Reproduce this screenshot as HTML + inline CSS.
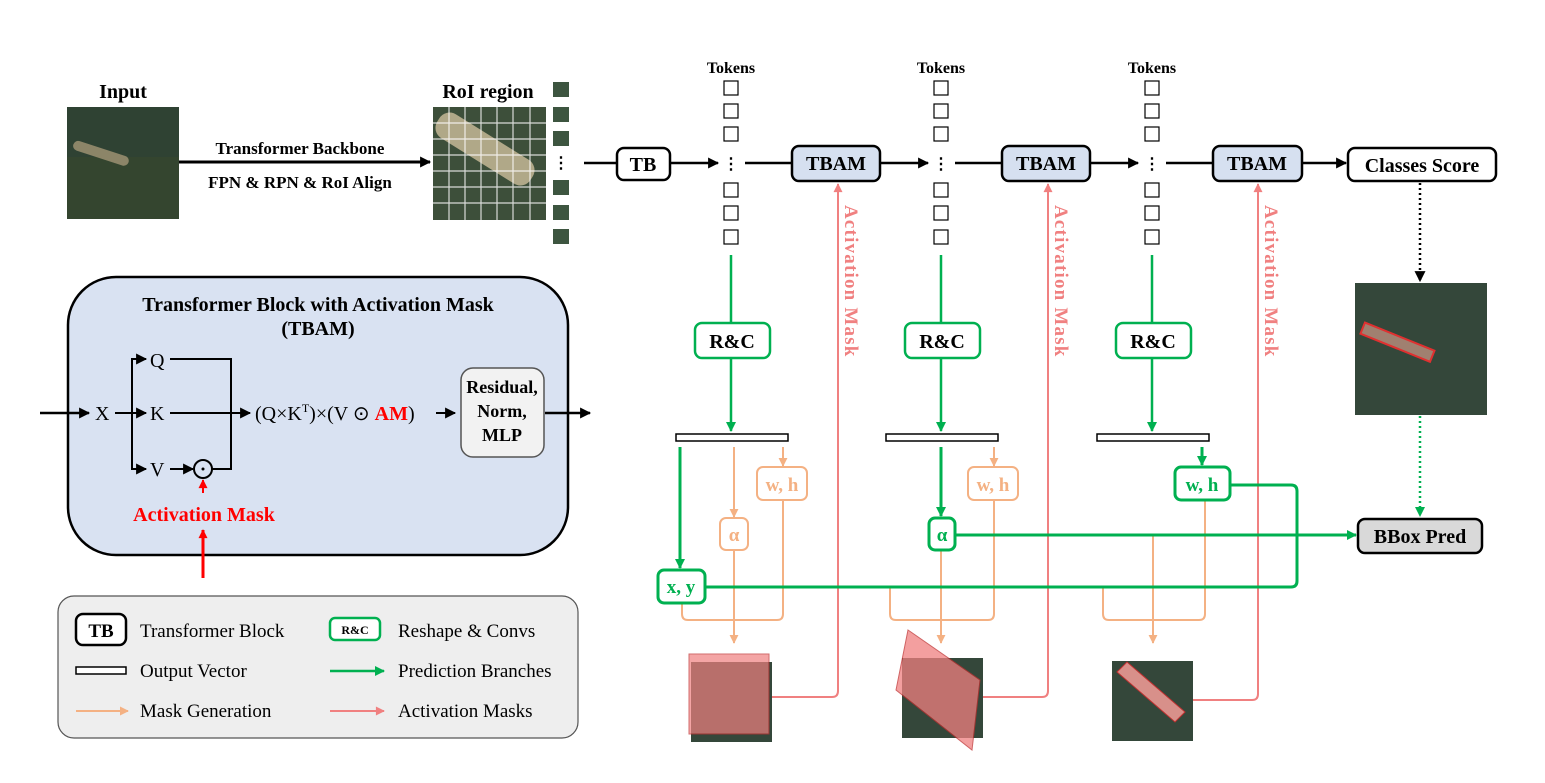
<!DOCTYPE html>
<html><head><meta charset="utf-8"><style>body{margin:0;background:#fff}svg{display:block}text{font-family:"Liberation Serif",serif}</style></head><body>
<svg width="1545" height="783" viewBox="0 0 1545 783" xmlns="http://www.w3.org/2000/svg">
<defs>
<marker id="ak" viewBox="0 0 10 10" refX="9" refY="5" markerUnits="userSpaceOnUse" markerWidth="13" markerHeight="11" orient="auto"><path d="M0,0L10,5L0,10z" fill="#000"/></marker>
<marker id="ag" viewBox="0 0 10 10" refX="9" refY="5" markerUnits="userSpaceOnUse" markerWidth="11" markerHeight="10" orient="auto"><path d="M0,0L10,5L0,10z" fill="#00b050"/></marker>
<marker id="ao" viewBox="0 0 10 10" refX="9" refY="5" markerUnits="userSpaceOnUse" markerWidth="9" markerHeight="9" orient="auto"><path d="M0,0L10,5L0,10z" fill="#f4b183"/></marker>
<marker id="ap" viewBox="0 0 10 10" refX="9" refY="5" markerUnits="userSpaceOnUse" markerWidth="10" markerHeight="9" orient="auto"><path d="M0,0L10,5L0,10z" fill="#f08080"/></marker>
<marker id="ar" viewBox="0 0 10 10" refX="9" refY="5" markerUnits="userSpaceOnUse" markerWidth="11" markerHeight="9" orient="auto"><path d="M0,0L10,5L0,10z" fill="#f00"/></marker>
</defs>
<!-- top row -->
<text x="123" y="98" font-size="20" font-weight="bold" text-anchor="middle">Input</text>
<rect x="67" y="107" width="112" height="112" fill="#34452f"/>
<rect x="67" y="107" width="112" height="50" fill="#2f4233"/>
<rect x="72" y="148" width="58" height="10" rx="5" fill="#8c8568" transform="rotate(18 100 153)"/>
<line x1="179" y1="162" x2="430" y2="162" stroke="#000" stroke-width="3" marker-end="url(#ak)"/>
<text x="300" y="154" font-size="17" font-weight="bold" text-anchor="middle">Transformer Backbone</text>
<text x="300" y="188" font-size="17" font-weight="bold" text-anchor="middle">FPN &amp; RPN &amp; RoI Align</text>
<text x="488" y="98" font-size="20" font-weight="bold" text-anchor="middle">RoI region</text>
<rect x="433" y="107" width="113" height="113" fill="#3d4f3a"/>
<rect x="430" y="135" width="110" height="28" rx="12" fill="#b0a888" transform="rotate(32 485 149)"/>
<g stroke="#fff" stroke-width="1.2" opacity=".8">
<line x1="449" y1="107" x2="449" y2="220"/><line x1="465" y1="107" x2="465" y2="220"/><line x1="481" y1="107" x2="481" y2="220"/><line x1="497" y1="107" x2="497" y2="220"/><line x1="513" y1="107" x2="513" y2="220"/><line x1="530" y1="107" x2="530" y2="220"/>
<line x1="433" y1="123" x2="546" y2="123"/><line x1="433" y1="139" x2="546" y2="139"/><line x1="433" y1="155" x2="546" y2="155"/><line x1="433" y1="171" x2="546" y2="171"/><line x1="433" y1="187" x2="546" y2="187"/><line x1="433" y1="203" x2="546" y2="203"/>
</g>
<g fill="#3d5540"><rect x="553" y="82" width="16" height="15"/><rect x="553" y="107" width="16" height="15"/><rect x="553" y="131" width="16" height="15"/><rect x="553" y="180" width="16" height="15"/><rect x="553" y="205" width="16" height="15"/><rect x="553" y="229" width="16" height="15"/></g>
<text x="561" y="168" font-size="16" font-weight="bold" text-anchor="middle">⋮</text>
<line x1="584" y1="163" x2="617" y2="163" stroke="#000" stroke-width="2.5"/>
<rect x="617" y="148" width="53" height="32" rx="7" fill="#fff" stroke="#000" stroke-width="2.5"/>
<text x="643" y="171" font-size="20" font-weight="bold" text-anchor="middle">TB</text>
<line x1="670" y1="163" x2="718" y2="163" stroke="#000" stroke-width="2.5" marker-end="url(#ak)"/>
<!-- token columns -->
<g id="tok">
<text x="731" y="73" font-size="16" font-weight="bold" text-anchor="middle">Tokens</text>
<g fill="#fff" stroke="#000" stroke-width="1.2"><rect x="724" y="81" width="14" height="14"/><rect x="724" y="104" width="14" height="14"/><rect x="724" y="127" width="14" height="14"/><rect x="724" y="183" width="14" height="14"/><rect x="724" y="206" width="14" height="14"/><rect x="724" y="230" width="14" height="14"/></g>
<text x="731" y="169" font-size="16" font-weight="bold" text-anchor="middle">⋮</text>
<line x1="731" y1="255" x2="731" y2="323" stroke="#00b050" stroke-width="2.5"/>
<rect x="695" y="323" width="75" height="35" rx="7" fill="#fff" stroke="#00b050" stroke-width="2.5"/>
<text x="732" y="348" font-size="20" font-weight="bold" text-anchor="middle">R&amp;C</text>
<line x1="731" y1="358" x2="731" y2="431" stroke="#00b050" stroke-width="2.5" marker-end="url(#ag)"/>
<rect x="676" y="434" width="112" height="7" fill="#fff" stroke="#000" stroke-width="1.5"/>
</g>
<use href="#tok" x="210"/><use href="#tok" x="421"/>
<line x1="745" y1="163" x2="792" y2="163" stroke="#000" stroke-width="2.5"/>
<line x1="955" y1="163" x2="1002" y2="163" stroke="#000" stroke-width="2.5"/>
<line x1="1166" y1="163" x2="1213" y2="163" stroke="#000" stroke-width="2.5"/>
<g fill="#d6e0f0" stroke="#000" stroke-width="2.5">
<rect x="792" y="146" width="88" height="35" rx="7"/><rect x="1002" y="146" width="88" height="35" rx="7"/><rect x="1213" y="146" width="89" height="35" rx="7"/></g>
<g font-size="20" font-weight="bold" text-anchor="middle"><text x="836" y="170">TBAM</text><text x="1046" y="170">TBAM</text><text x="1257" y="170">TBAM</text></g>
<line x1="880" y1="163" x2="928" y2="163" stroke="#000" stroke-width="2.5" marker-end="url(#ak)"/>
<line x1="1090" y1="163" x2="1138" y2="163" stroke="#000" stroke-width="2.5" marker-end="url(#ak)"/>
<line x1="1302" y1="163" x2="1346" y2="163" stroke="#000" stroke-width="2.5" marker-end="url(#ak)"/>
<rect x="1348" y="148" width="148" height="33" rx="7" fill="#fff" stroke="#000" stroke-width="2.5"/>
<text x="1422" y="172" font-size="20" font-weight="bold" text-anchor="middle">Classes Score</text>
<line x1="1420" y1="183" x2="1420" y2="281" stroke="#000" stroke-width="2.5" stroke-dasharray="2,3" marker-end="url(#ak)"/>
<rect x="1355" y="283" width="132" height="132" fill="#34473a"/>
<rect x="1360" y="336" width="75" height="12" fill="#a08070" stroke="#e03030" stroke-width="2" transform="rotate(22 1397 342)"/>
<line x1="1420" y1="416" x2="1420" y2="516" stroke="#00b050" stroke-width="2.5" stroke-dasharray="2,3" marker-end="url(#ag)"/>
<rect x="1358" y="519" width="124" height="34" rx="7" fill="#d9d9d9" stroke="#000" stroke-width="2.5"/>
<text x="1420" y="543" font-size="20" font-weight="bold" text-anchor="middle">BBox Pred</text>
<!-- activation mask lines -->
<g stroke="#f08080" stroke-width="2" fill="none">
<path d="M772,697H832Q838,697 838,691V184" marker-end="url(#ap)"/>
<path d="M983,697H1042Q1048,697 1048,691V184" marker-end="url(#ap)"/>
<path d="M1193,700H1252Q1258,700 1258,694V184" marker-end="url(#ap)"/>
</g>
<g fill="#f08080" font-size="19" font-weight="bold" letter-spacing="1.2"><text transform="translate(845,205) rotate(90)">Activation Mask</text><text transform="translate(1055,205) rotate(90)">Activation Mask</text><text transform="translate(1265,205) rotate(90)">Activation Mask</text></g>
<!-- orange -->
<g stroke="#f4b183" stroke-width="2" fill="none">
<line x1="734" y1="447" x2="734" y2="517" marker-end="url(#ao)"/>
<line x1="734" y1="550" x2="734" y2="643" marker-end="url(#ao)"/>
<line x1="783" y1="447" x2="783" y2="466" marker-end="url(#ao)"/>
<path d="M682,603V614Q682,620 688,620H777Q783,620 783,614V500"/>
<line x1="994" y1="447" x2="994" y2="466" marker-end="url(#ao)"/>
<line x1="941" y1="550" x2="941" y2="643" marker-end="url(#ao)"/>
<path d="M890,587V614Q890,620 896,620H988Q994,620 994,614V500"/>
<line x1="1153" y1="535" x2="1153" y2="643" marker-end="url(#ao)"/>
<path d="M1103,587V614Q1103,620 1109,620H1199Q1205,620 1205,614V500"/>
</g>
<g fill="#fff" stroke="#f4b183" stroke-width="2"><rect x="757" y="467" width="50" height="33" rx="6"/><rect x="720" y="518" width="28" height="32" rx="6"/><rect x="968" y="467" width="50" height="33" rx="6"/></g>
<g fill="#f4b183" font-size="19" font-weight="bold" text-anchor="middle"><text x="782" y="491">w, h</text><text x="734" y="541">α</text><text x="993" y="491">w, h</text></g>
<!-- green -->
<g stroke="#00b050" stroke-width="3" fill="none">
<line x1="680" y1="447" x2="680" y2="568" marker-end="url(#ag)"/>
<line x1="941" y1="447" x2="941" y2="516" marker-end="url(#ag)"/>
<line x1="1202" y1="447" x2="1202" y2="465" marker-end="url(#ag)"/>
<path d="M705,587H1291Q1297,587 1297,581V491Q1297,485 1291,485H1230"/>
<line x1="955" y1="535" x2="1356" y2="535" marker-end="url(#ag)"/>
</g>
<g fill="#fff" stroke="#00b050" stroke-width="3"><rect x="658" y="570" width="47" height="33" rx="6"/><rect x="929" y="518" width="26" height="32" rx="6"/><rect x="1175" y="467" width="55" height="33" rx="6"/></g>
<g fill="#00b050" font-size="19" font-weight="bold" text-anchor="middle"><text x="681" y="593">x, y</text><text x="942" y="541">α</text><text x="1202" y="491">w, h</text></g>
<!-- bottom images -->
<rect x="691" y="662" width="81" height="80" fill="#34473a"/>
<rect x="689" y="654" width="80" height="80" fill="#f08080" opacity=".7" stroke="#c03030"/>
<rect x="902" y="658" width="81" height="80" fill="#34473a"/>
<polygon points="908,630 980,680 972,750 896,690" fill="#f08080" opacity=".75" stroke="#c03030"/>
<rect x="1112" y="661" width="81" height="80" fill="#34473a"/>
<polygon points="1117,672 1127,662 1185,712 1175,722" fill="#d8908a" stroke="#c03030"/>
<!-- TBAM panel -->
<rect x="68" y="277" width="500" height="278" rx="48" fill="#d9e2f2" stroke="#000" stroke-width="2.5"/>
<text x="318" y="311" font-size="20" font-weight="bold" text-anchor="middle">Transformer Block with Activation Mask</text>
<text x="318" y="335" font-size="20" font-weight="bold" text-anchor="middle">(TBAM)</text>
<line x1="40" y1="413" x2="89" y2="413" stroke="#000" stroke-width="2.5" marker-end="url(#ak)"/>
<g font-size="20"><text x="95" y="420">X</text><text x="150" y="367">Q</text><text x="150" y="420">K</text><text x="150" y="476">V</text></g>
<g stroke="#000" stroke-width="2" fill="none">
<line x1="115" y1="413" x2="146" y2="413" marker-end="url(#ak)"/>
<path d="M132,413V359H146" marker-end="url(#ak)"/><path d="M132,413V469H146" marker-end="url(#ak)"/>
<path d="M170,359H231V469H212"/>
<line x1="170" y1="413" x2="250" y2="413" marker-end="url(#ak)"/>
<line x1="170" y1="469" x2="193" y2="469" marker-end="url(#ak)"/>
<circle cx="203" cy="469" r="9"/>
<line x1="436" y1="413" x2="455" y2="413" marker-end="url(#ak)"/>
<line x1="545" y1="413" x2="590" y2="413" stroke-width="2.5" marker-end="url(#ak)"/>
</g>
<circle cx="203" cy="469" r="1.5"/>
<text x="255" y="420" font-size="20">(Q×K<tspan font-size="12" dy="-8">T</tspan><tspan dy="8">)×(V ⊙ </tspan><tspan fill="#f00" font-weight="bold">AM</tspan>)</text>
<rect x="461" y="368" width="83" height="89" rx="12" fill="#f2f2f2" stroke="#555" stroke-width="1.5"/>
<g font-size="18" font-weight="bold" text-anchor="middle"><text x="502" y="393">Residual,</text><text x="502" y="417">Norm,</text><text x="502" y="441">MLP</text></g>
<line x1="203" y1="493" x2="203" y2="480" stroke="#f00" stroke-width="2" marker-end="url(#ar)"/>
<text x="204" y="521" font-size="20" font-weight="bold" fill="#f00" text-anchor="middle">Activation Mask</text>
<line x1="203" y1="578" x2="203" y2="530" stroke="#f00" stroke-width="3" marker-end="url(#ar)"/>
<!-- legend -->
<rect x="58" y="596" width="520" height="142" rx="16" fill="#eeeeee" stroke="#555" stroke-width="1.2"/>
<rect x="76" y="614" width="50" height="31" rx="7" fill="#fff" stroke="#000" stroke-width="2.5"/>
<text x="101" y="637" font-size="19" font-weight="bold" text-anchor="middle">TB</text>
<text x="140" y="637" font-size="19">Transformer Block</text>
<rect x="330" y="618" width="50" height="22" rx="5" fill="#fff" stroke="#00b050" stroke-width="2.5"/>
<text x="355" y="634" font-size="12" font-weight="bold" text-anchor="middle">R&amp;C</text>
<text x="398" y="637" font-size="19">Reshape &amp; Convs</text>
<rect x="76" y="667" width="50" height="7" fill="#fff" stroke="#000" stroke-width="1.5"/>
<text x="140" y="677" font-size="19">Output Vector</text>
<line x1="330" y1="671" x2="384" y2="671" stroke="#00b050" stroke-width="2.5" marker-end="url(#ag)"/>
<text x="398" y="677" font-size="19">Prediction Branches</text>
<line x1="76" y1="711" x2="128" y2="711" stroke="#f4b183" stroke-width="2" marker-end="url(#ao)"/>
<text x="140" y="717" font-size="19">Mask Generation</text>
<line x1="330" y1="711" x2="384" y2="711" stroke="#f08080" stroke-width="2" marker-end="url(#ap)"/>
<text x="398" y="717" font-size="19">Activation Masks</text>
</svg>
</body></html>
